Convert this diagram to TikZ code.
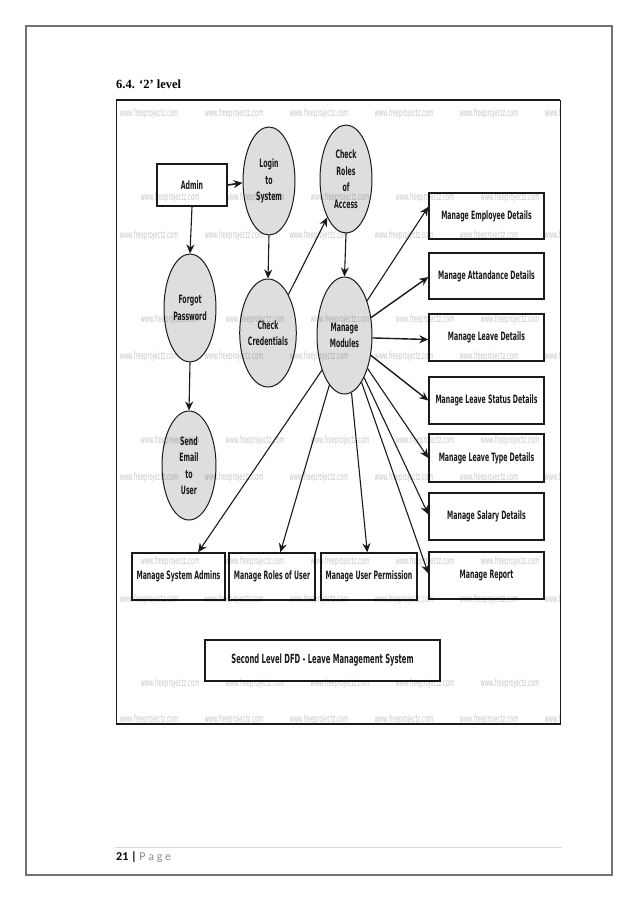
\documentclass[tikz,border=0pt]{standalone}
\usepackage{fontspec}
\usetikzlibrary{shapes.geometric,arrows.meta}
\setmainfont{Liberation Serif}
\newfontfamily\dfont[FakeStretch=0.54]{DejaVu Sans}
\newfontfamily\wfont[FakeStretch=0.52]{DejaVu Sans}
\newfontfamily\ffont{Carlito}
\definecolor{ink}{HTML}{1A1A1A}
\tikzset{
  lab/.style={font=\dfont\bfseries\fontsize{11.5}{16.5}\selectfont,text=ink,align=center},
  proc/.style={ellipse,draw=ink,line width=1pt,fill=black!13,inner sep=0pt,lab},
  ent/.style={rectangle,draw=ink,line width=1.4pt,fill=white,inner sep=0pt,lab},
  side/.style={ent,minimum width=115pt},
  flow/.style={draw=ink,line width=1.1pt,-{Stealth[length=9pt,width=8pt]}},
  wmark/.style={font=\wfont\fontsize{10.2}{11}\selectfont,text=black,opacity=0.22,inner sep=0pt},
}
\begin{document}
\begin{tikzpicture}[x=1pt,y=-1pt]
\useasboundingbox (0,0) rectangle (638,902);
\fill[white] (0,0) rectangle (638,902);
\draw[black!55,line width=1.6pt] (26,26) rectangle (612,875);
\node[anchor=base west,inner sep=0pt,font=\bfseries\fontsize{12.5}{14}\selectfont] (head) at (116,88.5) {6.4. ‘2’ level};
\draw[ink,line width=1pt] (116,100) rectangle (560,724);
\draw[ink,line width=1.6pt] (116,100) -- (560,100);
\draw[ink,line width=1.6pt] (116,724) -- (560,724);

\node[ent,minimum width=70pt,minimum height=42pt] (admin) at (192,185) {Admin};
\node[proc,minimum width=52pt,minimum height=108pt] (login) at (269,181) {Login\\to\\System};
\node[proc,minimum width=52pt,minimum height=108pt] (roles) at (346,179) {Check\\Roles\\of\\Access};
\node[proc,minimum width=52pt,minimum height=108pt] (forgot) at (190,308) {Forgot\\Password};
\node[proc,minimum width=52pt,minimum height=108pt] (cred) at (268,333) {Check\\Credentials};
\node[proc,minimum width=55pt,minimum height=117pt] (mod) at (344.5,335.5) {Manage\\Modules};
\node[proc,minimum width=54pt,minimum height=109pt] (send) at (189,465.5) {Send\\Email\\to\\User};

\node[side,minimum height=46pt] (emp) at (486.5,216) {Manage Employee Details};
\node[side,minimum height=46pt] (att) at (486.5,276) {Manage Attandance Details};
\node[side,minimum height=47pt] (lv) at (486.5,337.5) {Manage Leave Details};
\node[side,minimum height=47pt] (stat) at (486.5,400.5) {Manage Leave Status Details};
\node[side,minimum height=48pt] (type) at (486.5,458) {Manage Leave Type Details};
\node[side,minimum height=47pt] (sal) at (486.5,516.5) {Manage Salary Details};
\node[side,minimum height=47pt] (rep) at (486.5,575.5) {Manage Report};
\node[ent,minimum width=93pt,minimum height=47pt] (sys) at (178.5,576.5) {Manage System Admins};
\node[ent,minimum width=86pt,minimum height=47pt] (rol) at (272,576.5) {Manage Roles of User};
\node[ent,minimum width=96pt,minimum height=47pt] (per) at (369,576.5) {Manage User Permission};
\node[ent,minimum width=235pt,minimum height=41pt,font=\dfont\bfseries\fontsize{12.6}{15}\selectfont] (title) at (322.5,660.5) {Second Level DFD - Leave Management System};

\draw[flow,line width=1.6pt] (admin.east) -- (login.184);
\draw[flow] (admin.south) -- (forgot.north);
\draw[flow] (forgot.south) -- (send.north);
\draw[flow] (login.south) -- (cred.north);
\draw[flow] (cred.62) -- (roles.244);
\draw[flow] (roles.south) -- (mod.north);
\draw[flow] (mod.57.2) -- (emp.171.1);
\draw[flow,line width=1.4pt] (mod.34.9) -- (att.181);
\draw[flow,line width=1.4pt] (mod.-5.2) -- (lv.182.5);
\draw[flow,line width=1.4pt] (mod.-37.7) -- (stat.180.5);
\draw[flow] (mod.-55.7) -- (type.180);
\draw[flow] (mod.-65.4) -- (sal.178.5);
\draw[flow] (mod.-70.8) -- (rep.178.5);
\draw[flow] (mod.-83.5) -- (per.94.9);
\draw[flow] (mod.-107.4) -- (rol.71.2);
\draw[flow] (mod.-123.1) -- (sys.51.8);

\begin{scope}
\clip (116,100) rectangle (560,726);
\foreach \r/\yy in {0/114,1/236,2/357,3/478,4/600,5/720}
  \foreach \c/\xx in {0/149,1/234,2/319,3/404,4/489,5/574}
    \node[wmark] (wa\r\c) at (\xx,\yy) {www.freeprojectz.com};
\foreach \r/\yy in {0/198,1/320,2/441,3/562,4/684}
  \foreach \c/\xx in {0/170,1/255,2/340,3/425,4/510}
    \node[wmark] (wb\r\c) at (\xx,\yy) {www.freeprojectz.com};
\end{scope}

\draw[black!15,line width=0.6pt] (115,847) -- (562,847);
\node[anchor=base west,inner sep=0pt,font=\ffont\fontsize{12}{15}\selectfont] (foot) at (116,860) {\textbf{21 |} \textcolor{black!45}{P a g e}};
\end{tikzpicture}
\end{document}
